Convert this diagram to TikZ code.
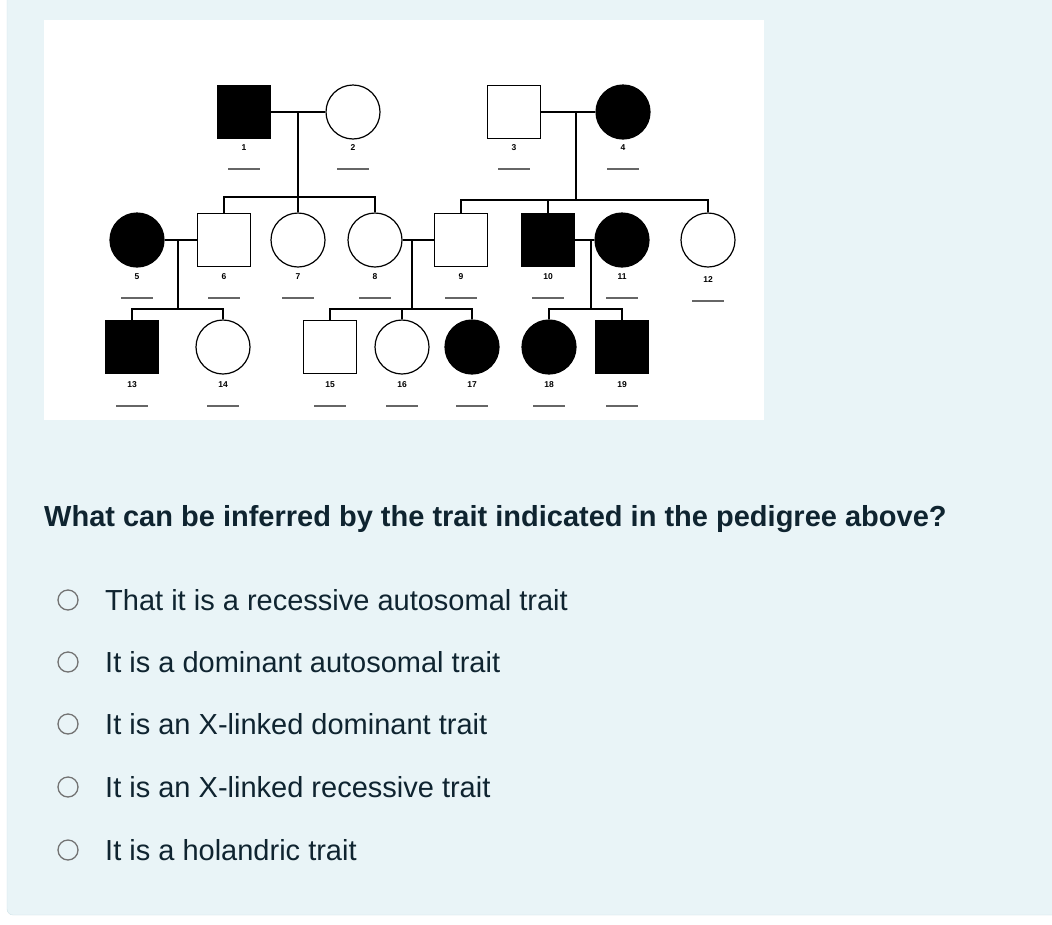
\documentclass[tikz,border=0pt]{standalone}
\usepackage{fontspec}
\setmainfont{Liberation Sans}
\definecolor{panel}{HTML}{E9F4F7}
\definecolor{panelb}{HTML}{CFE3E8}
\definecolor{txt}{HTML}{0F2430}
\begin{document}
\begin{tikzpicture}[x=1pt,y=-1pt,
  sq/.style={draw,line width=1.2pt,minimum size=53pt,inner sep=0pt},
  ci/.style={draw,circle,line width=1.2pt,minimum width=54pt,inner sep=0pt},
  aff/.style={fill=black},
  lab/.style={font=\fontsize{8.5}{10}\selectfont\bfseries},
  ln/.style={line width=1.1pt},
  ul/.style={draw=black!60,line width=1.5pt},
  radio/.style={draw=black!55,circle,line width=1.3pt,minimum size=20pt,inner sep=0pt},
  opt/.style={anchor=west,font=\fontsize{29}{33}\selectfont,text=txt,inner sep=0pt}]
\useasboundingbox (0,0) rectangle (1052,924);
\fill[white] (0,0) rectangle (1052,924);
\draw[panelb,fill=panel,rounded corners=6pt] (7,-10) rectangle (1070,915);
\fill[white] (44,20) rectangle (764,420);
% generation 1
\node[sq,aff] (p1) at (244,112) {};
\node[ci] (p2) at (353,112) {};
\node[sq] (p3) at (514,112) {};
\node[ci,aff] (p4) at (623,112) {};
% generation 2
\node[ci,aff] (p5) at (137,240) {};
\node[sq] (p6) at (224,240) {};
\node[ci] (p7) at (298,240) {};
\node[ci] (p8) at (375,240) {};
\node[sq] (p9) at (461,240) {};
\node[sq,aff] (p10) at (548,240) {};
\node[ci,aff] (p11) at (622,240) {};
\node[ci] (p12) at (708,240) {};
% generation 3
\node[sq,aff] (p13) at (132,347) {};
\node[ci] (p14) at (223,347) {};
\node[sq] (p15) at (330,347) {};
\node[ci] (p16) at (402,347) {};
\node[ci,aff] (p17) at (472,347) {};
\node[ci,aff] (p18) at (549,347) {};
\node[sq,aff] (p19) at (622,347) {};
% labels and underlines
\foreach \n/\x/\y in {1/244/148,2/353/148,3/514/148,4/623/148,
  5/137/277,6/224/277,7/298/277,8/375/277,9/461/277,10/548/277,11/622/277,12/708/280,
  13/132/385,14/223/385,15/330/385,16/402/385,17/472/385,18/549/385,19/622/385}{
  \node[lab] (l\n) at (\x,\y) {\n};
  \draw[ul] (\x-16,\y+21) -- (\x+16,\y+21);
}
% couples
\draw[ln] (p1) -- (p2);
\draw[ln] (p3) -- (p4);
\draw[ln] (p5) -- (p6);
\draw[ln] (p8) -- (p9);
\draw[ln] (p10) -- (p11);
% descents
\coordinate (m12) at (298,112);
\coordinate (m34) at (576,112);
\coordinate (m56) at (178,240);
\coordinate (m89) at (412,240);
\coordinate (m1011) at (591,240);
\draw[ln] (m12) -- (298,197);
\draw[ln] (p6.north) |- (298,197) -| (p8.north);
\draw[ln] (298,197) -- (p7.north);
\draw[ln] (m34) -- (576,200);
\draw[ln] (p9.north) |- (576,200) -| (p12.north);
\draw[ln] (548,200) -- (p10.north);
\draw[ln] (m56) -- (178,309);
\draw[ln] (p13.north) |- (178,309) -| (p14.north);
\draw[ln] (m89) -- (412,309);
\draw[ln] (p15.north) |- (412,309) -| (p17.north);
\draw[ln] (402,309) -- (p16.north);
\draw[ln] (m1011) -- (591,309);
\draw[ln] (p18.north) |- (591,309) -| (p19.north);
% question
\node[anchor=base west,inner sep=0pt,text=txt,font=\fontsize{29}{33}\selectfont\bfseries] (q) at (44,526) {What can be inferred by the trait indicated in the pedigree above?};
\foreach \i/\y/\t in {a/600/That it is a recessive autosomal trait,
  b/662/It is a dominant autosomal trait,
  c/724/It is an X-linked dominant trait,
  d/787/It is an X-linked recessive trait,
  e/850/It is a holandric trait}{
  \node[radio] (r\i) at (68,\y) {};
  \node[opt] (o\i) at (105,\y) {\t};
}
\end{tikzpicture}
\end{document}
